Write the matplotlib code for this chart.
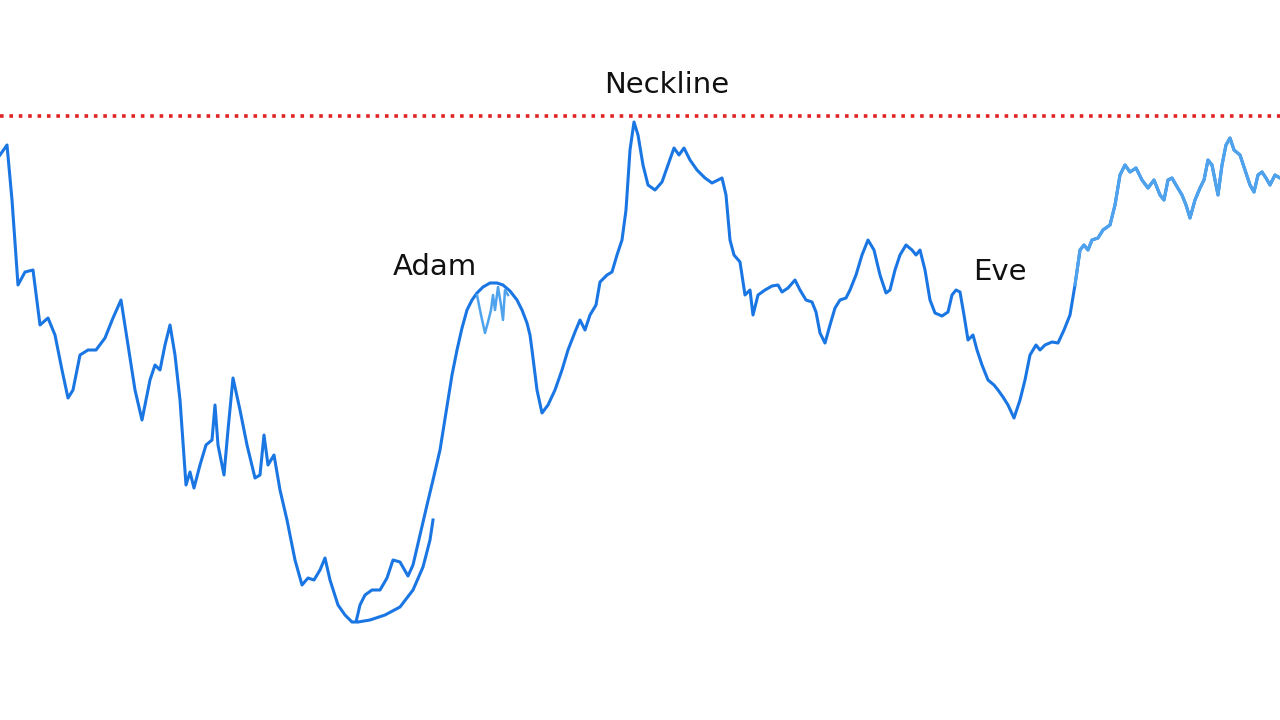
import numpy as np
import matplotlib.pyplot as plt

# trading days and closing prices
days = [0, 7, 12, 18, 25, 33, 40, 48, 55, 62, 68, 73, 80, 88, 96, 105, 113, 121, 128, 135,
        142, 150, 155, 160, 165, 170, 175, 180, 186, 190, 194, 200, 206, 212, 215, 218, 224, 228, 233, 240,
        247, 255, 260, 264, 268, 274, 280, 287, 295, 302, 308, 314, 320, 325, 330, 338, 345, 352, 356, 360,
        365, 372, 380, 387, 393, 400, 408, 413, 420, 427, 433, 440, 444, 448, 452, 457, 462, 467, 472, 477,
        483, 490, 497, 503, 510, 517, 522, 527, 530, 532, 537,
        542, 548, 555, 562, 568, 575, 580, 585, 590, 596, 600, 607, 612,
        617, 622, 626, 630, 634, 638, 643, 648, 655, 662, 668, 674, 679, 684, 690, 697, 705, 712, 718, 722,
        726, 730, 734, 740, 745, 750, 753, 758, 765, 772, 778, 782, 788, 795, 800, 806, 812, 816, 820, 825,
        830, 835, 840, 846, 850, 856, 862, 868, 874, 880, 886, 890, 895, 900, 906, 912, 916, 920, 925, 930,
        935, 942, 948, 952, 956, 960, 964, 968, 973, 977, 982, 988, 994, 998, 1003, 1008, 1014, 1020, 1025, 1030,
        1036, 1040, 1045, 1052, 1058, 1064, 1070, 1075, 1080, 1084, 1088, 1092, 1098, 1103, 1110, 1115, 1120, 1125, 1130, 1136,
        1142, 1148, 1154, 1160, 1164, 1168, 1172, 1176, 1182, 1186, 1190, 1195, 1200, 1204, 1208, 1212, 1215, 1218, 1222, 1226,
        1230, 1234, 1240, 1245, 1250, 1254, 1258, 1262, 1266, 1270, 1275, 1280]
price = [565, 575, 520, 435, 448, 450, 395, 402, 385, 350, 322, 330, 365, 370, 370, 382, 402, 420, 375, 330,
         300, 340, 355, 350, 375, 395, 365, 320, 235, 248, 232, 255, 275, 280, 315, 275, 245, 290, 342, 310,
         275, 242, 245, 285, 255, 265, 230, 200, 160, 135, 142, 140, 150, 162, 140, 115, 105, 98, 98, 115,
         125, 130, 130, 142, 160, 158, 144, 155, 185, 215, 240, 270, 295, 320, 345, 370, 392, 410, 420, 427,
         433, 437, 437, 435, 429, 420, 410, 397, 385, 370, 330,
         307, 315, 330, 350, 370, 388, 400, 390, 405, 415, 438, 445, 448,
         465, 480, 510, 570, 598, 585, 555, 535, 530, 538, 555, 572, 565, 572, 560, 550, 542, 537, 540, 542,
         525, 480, 465, 458, 425, 430, 405, 425, 430, 434, 435, 428, 432, 440, 430, 420, 418, 408, 387, 377,
         395, 412, 420, 422, 430, 445, 465, 480, 470, 445, 427, 430, 450, 465, 475, 470, 465, 470, 450, 420,
         407, 404, 408, 425, 430, 428, 405, 380, 385, 370, 355, 340, 335, 330, 323, 315, 302, 320, 340, 365,
         375, 370, 375, 378, 377, 390, 405, 435, 470, 475, 470, 480, 482, 490, 495, 515, 545, 555, 548, 552,
         540, 532, 540, 525, 520, 540, 542, 535, 525, 515, 502, 520, 532, 540, 560, 555, 540, 525, 555, 575,
         582, 570, 565, 550, 535, 528, 545, 548, 542, 535, 545, 542]

# noisy price action inside the Adam dome
adam_days = [477, 481, 485, 488, 491, 493, 495, 498, 501, 503, 505, 508]
adam_price = [425, 405, 387, 398, 410, 425, 410, 433, 415, 400, 430, 425]

# rounded bottom of Adam
cup_days = [358, 370, 385, 400, 413, 423, 430, 433]
cup_price = [98, 100, 105, 113, 130, 153, 180, 200]

neckline = 604

blue = '#1a76e3'
light_blue = '#4fa3ec'

fig = plt.figure(figsize=(12.8, 7.2), dpi=100)
ax = fig.add_axes([0, 0, 1, 1])

days = np.array(days)
price = np.array(price)
ax.plot(days, price, color=blue, linewidth=2.2, solid_joinstyle='round')
right = days >= 1075
ax.plot(days[right], price[right], color=light_blue, linewidth=2.2)
ax.plot(adam_days, adam_price, color=light_blue, linewidth=1.8)
ax.plot(cup_days, cup_price, color=blue, linewidth=2.2)

ax.axhline(neckline, color='#e02424', linestyle=(0, (1, 1.6)), linewidth=2.6)

ax.text(667, 635, "Neckline", ha='center', va='center', fontsize=21, color='#111111')
ax.text(435, 453, "Adam", ha='center', va='center', fontsize=21, color='#111111')
ax.text(1000, 448, "Eve", ha='center', va='center', fontsize=21, color='#111111')

ax.set_xlim(0, 1280)
ax.set_ylim(0, 720)
ax.axis('off')

plt.savefig("out.png", dpi=100)
